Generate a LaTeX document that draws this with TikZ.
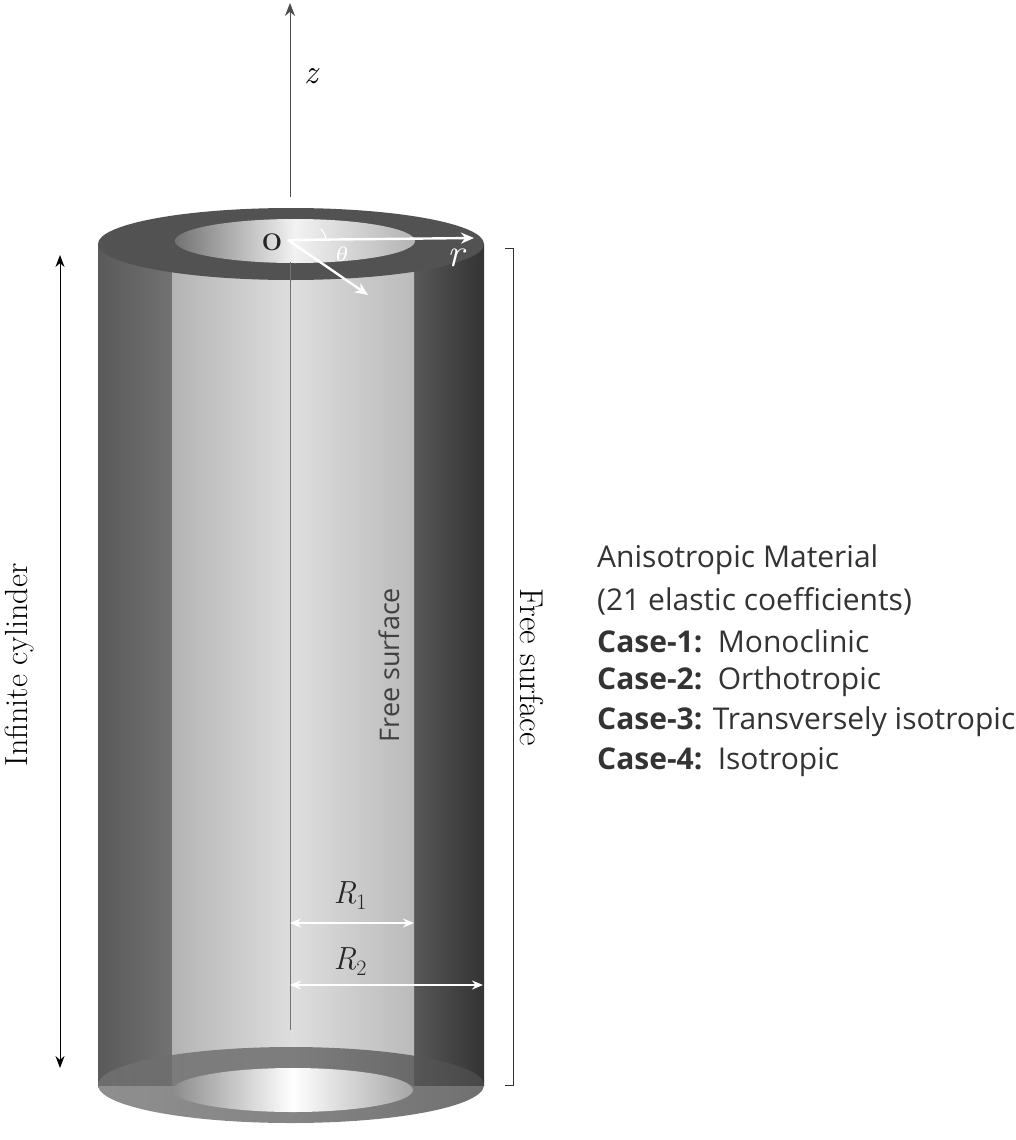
\documentclass[tikz,border=0pt]{standalone}
\usepackage{fontspec}
\newfontfamily\osans{Open Sans}
\newfontfamily\gk{DejaVu Serif}
\usetikzlibrary{arrows.meta}
\begin{document}
\begin{tikzpicture}[x=1pt,y=-1pt,
  wh/.style={draw=white,line width=2.4pt,-{Stealth[length=13pt,width=11pt]}},
  whb/.style={draw=white,line width=2pt,{Stealth[length=11pt,width=9pt]}-{Stealth[length=11pt,width=9pt]}},
  lst/.style={font=\osans\fontsize{30}{34}\selectfont,text=black!80,anchor=west,inner sep=0}]
\useasboundingbox (0,0) rectangle (1016,1140);
% outer body
\shade[left color=black!65,right color=black!80,middle color=black!40] (98,244) rectangle (484,1085);
% inner light body
\shade[left color=black!25,right color=black!20,middle color=black!8,opacity=0.85] (172,244) rectangle (414,1085);
% bottom outer ellipse
\shade[left color=black!55,right color=black!70,middle color=black!60,opacity=0.8] (291,1085) ellipse[x radius=193,y radius=38];
% bottom inner ellipse
\shade[left color=black!45,right color=black!35,middle color=white] (293,1090) ellipse[x radius=120,y radius=22];
% top outer ring
\fill[black!68] (291,244) ellipse[x radius=193,y radius=36];
\shade[left color=black!55,right color=black!30,middle color=black!5] (295,241) ellipse[x radius=120,y radius=22];
% center line
\draw[black!55,line width=0.8pt] (290,262) coordinate (c1) -- (290,1030) coordinate (c2);
% z axis
\coordinate (zb) at (290,197); \coordinate (zt) at (290,3);
\draw[black!70,line width=0.9pt,-{Stealth[length=13pt,width=10pt]}] (zb) -- (zt);
\node[font=\itshape\fontsize{34}{34}\selectfont] (zl) at (311,76) {z};
% top arrows
\coordinate (O) at (288,240);
\coordinate (rT) at (474,238);
\coordinate (tT) at (368,295);
\draw[wh] (O) -- (rT);
\draw[wh] (O) -- (tT);
\node[font=\bfseries\fontsize{24}{24}\selectfont,text=black!85] (Ol) at (272,242) {O};
\node[text=white,font=\gk\itshape\fontsize{19}{19}\selectfont] (th) at (342,254) {θ};
\draw[white,line width=1.2pt] (326,240) arc[start angle=-5,end angle=-45,radius=18];
\node[text=white,font=\itshape\fontsize{40}{40}\selectfont] (rl) at (456,258) {r};
% R arrows
\coordinate (a1) at (290,923); \coordinate (b1) at (414,923);
\coordinate (a2) at (290,985); \coordinate (b2) at (483,985);
\draw[whb] (a1) -- (b1);
\draw[whb] (a2) -- (b2);
\node[text=black!85,font=\fontsize{32}{32}\selectfont] (R1) at (350,896) {\textit{R}\raisebox{-6pt}{\fontsize{22}{22}\selectfont 1}};
\node[text=black!85,font=\fontsize{32}{32}\selectfont] (R2) at (350,962) {\textit{R}\raisebox{-6pt}{\fontsize{22}{22}\selectfont 2}};
% inside label
\node[rotate=90,font=\osans\fontsize{27}{27}\selectfont,text=black!75] (fs1) at (389,665) {Free surface};
% left arrow
\coordinate (la) at (60,255); \coordinate (lb) at (60,1068);
\draw[line width=1pt,{Stealth[length=12pt,width=9pt]}-{Stealth[length=12pt,width=9pt]}] (la) -- (lb);
\node[rotate=90,font=\fontsize{32}{32}\selectfont] (ic) at (20,665) {Infinite cylinder};
% right bracket
\draw[black!80,line width=0.8pt] (505,248) -- (513,248) -- (513,1085) -- (505,1085);
\node[rotate=-90,font=\fontsize{33}{33}\selectfont] (fs2) at (532,667) {Free surface};
% text block
\node[lst] (t1) at (597,560) {Anisotropic Material};
\node[lst] (t2) at (597,601) {(21 elastic coefficients)};
\node[lst] (t3) at (597,641) {\textbf{Case-1:}\, Monoclinic};
\node[lst] (t4) at (597,682) {\textbf{Case-2:}\, Orthotropic};
\node[lst] (t5) at (597,722) {\textbf{Case-3:} Transversely isotropic};
\node[lst] (t6) at (597,762) {\textbf{Case-4:}\, Isotropic};
\end{tikzpicture}
\end{document}
